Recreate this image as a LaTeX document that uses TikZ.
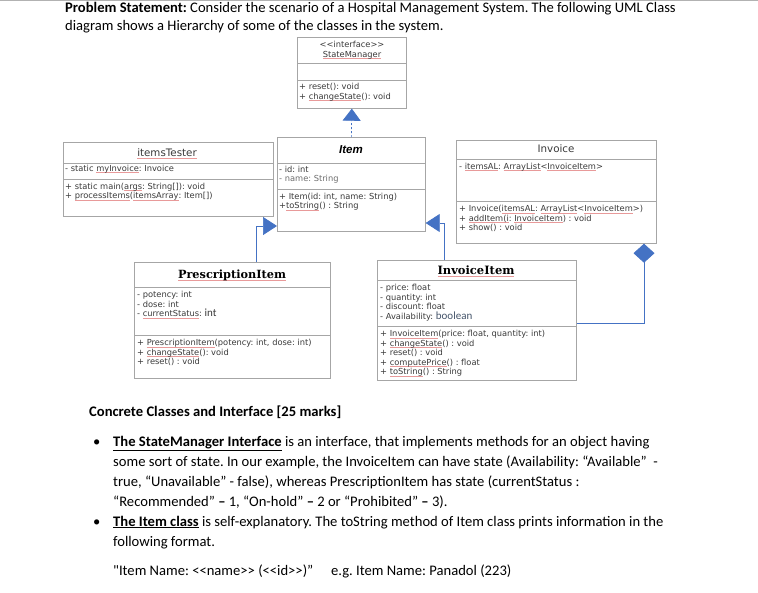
\documentclass[tikz,border=0pt]{standalone}
\usepackage{fontspec}
\setmainfont{Carlito}[Ligatures=TeXOff]
\newfontfamily\umlsans{DejaVu Sans}[Ligatures=TeXOff]
\newfontfamily\lsans{Liberation Sans}
\newfontfamily\dserif{DejaVu Serif}
\usetikzlibrary{arrows.meta}
\definecolor{umlblue}{HTML}{4472C4}
\definecolor{boxgray}{HTML}{A6A6A6}
\definecolor{umltext}{HTML}{3A3A3A}
\definecolor{lighttext}{HTML}{6E6E6E}
\definecolor{bluegray}{HTML}{44546A}
\definecolor{spellred}{HTML}{E89A9A}
\newcommand\spl[1]{\setbox0\hbox{#1}\rlap{\color{spellred}\smash{\rule[-1.6pt]{\wd0}{0.5pt}}}\box0}
\newcommand\splk[1]{\setbox0\hbox{#1}\rlap{\color{spellred}\smash{\rule[-2.2pt]{\wd0}{0.6pt}}}\box0}
\frenchspacing
\tikzset{
  umlbox/.style={draw=boxgray, line width=0.7pt, anchor=north west, inner sep=0pt, fill=white},
  boxline/.style={draw=boxgray, line width=0.7pt},
  umlfont/.style={font=\umlsans\fontsize{8.3}{9.5}\selectfont, text=umltext},
  members/.style={umlfont, anchor=north west, inner sep=0pt, align=left},
  hdr/.style={inner sep=0pt, text=umltext},
  body/.style={anchor=base west, inner sep=0pt, font=\fontsize{14.6}{18}\selectfont, text=black},
  gen/.style={draw=umlblue, line width=0.7pt, -{Triangle[length=14pt, width=18pt, fill=umlblue]}},
  realize/.style={draw=umlblue, line width=0.7pt, dash pattern=on 2pt off 2pt, -{Triangle[length=12pt, width=18pt, fill=umlblue]}},
  agg/.style={draw=umlblue, line width=0.7pt, -{Diamond[length=19pt, width=21pt, fill=umlblue]}}
}
\begin{document}
\begin{tikzpicture}[x=1pt, y=-1pt]
\useasboundingbox (0,0) rectangle (758,592);
\fill[white] (0,0) rectangle (758,592);
\draw[gray!60, line width=1pt] (0,0.6) coordinate (tl) -- (758,0.6) coordinate (tr);

% title
\node[body] (t1) at (65,12) {\textbf{Problem Statement:} Consider the scenario of a Hospital Management System. The following UML Class};
\node[body] (t2) at (65,30) {diagram shows a Hierarchy of some of the classes in the system.};

% StateManager
\node[umlbox, minimum width=109pt, minimum height=71pt] (sm) at (297,37) {};
\draw[boxline] (sm.west |- 0,63) -- (sm.east |- 0,63);
\draw[boxline] (sm.west |- 0,80) -- (sm.east |- 0,80);
\node[hdr, umlfont, align=center, anchor=north] (smh) at (352,41) {\strut<<interface>>\\\spl{StateManager}};
\node[members] (smm) at (299,83) {\strut+ reset(): void\\+ \spl{changeState}(): void};

% Item
\node[umlbox, minimum width=148pt, minimum height=94pt] (item) at (277,137) {};
\draw[boxline] (item.west |- 0,163) -- (item.east |- 0,163);
\draw[boxline] (item.west |- 0,189) -- (item.east |- 0,189);
\node[hdr, font=\lsans\bfseries\itshape\fontsize{11.5}{13}\selectfont, text=black] (itemh) at (351,150) {Item};
\node[members] (itema) at (279,165.5) {\strut- id: int\\\textcolor{lighttext}{- name: String}};
\node[members] (itemm) at (279,192.5) {\strut+ Item(id: int, name: String)\\+\spl{toString}() : String};

% itemsTester
\node[umlbox, minimum width=210pt, minimum height=74pt] (it) at (63,142) {};
\draw[boxline] (it.west |- 0,163) -- (it.east |- 0,163);
\draw[boxline] (it.west |- 0,179) -- (it.east |- 0,179);
\node[hdr, font=\umlsans\fontsize{10.3}{12}\selectfont] (ith) at (167,153) {\spl{itemsTester}};
\node[members] (ita) at (65,164.5) {\strut- static \spl{myInvoice}: Invoice};
\node[members] (itm) at (65,182.5) {\strut+ static main(\spl{args}: String[]): void\\+ \spl{processItems}(\spl{itemsArray}: Item[])};

% Invoice
\node[umlbox, minimum width=200pt, minimum height=103pt] (inv) at (456,140) {};
\draw[boxline] (inv.west |- 0,159) -- (inv.east |- 0,159);
\draw[boxline] (inv.west |- 0,201) -- (inv.east |- 0,201);
\node[hdr, font=\umlsans\fontsize{10.3}{12}\selectfont] (invh) at (556,149) {Invoice};
\node[members] (inva) at (459,162.5) {\strut- \spl{itemsAL}: \spl{ArrayList}<\spl{InvoiceItem}>};
\node[members] (invm) at (459,205) {\strut+ Invoice(\spl{itemsAL}: \spl{ArrayList}<\spl{InvoiceItem}>)\\+ \spl{addItem(i}: \spl{InvoiceItem}) : void\\+ show() : void};

% PrescriptionItem
\node[umlbox, minimum width=196pt, minimum height=116pt] (pi) at (134,262) {};
\draw[boxline] (pi.west |- 0,287) -- (pi.east |- 0,287);
\draw[boxline] (pi.west |- 0,335) -- (pi.east |- 0,335);
\node[hdr, font=\dserif\bfseries\fontsize{11.3}{13}\selectfont, text=black] (pih) at (232,275) {\splk{PrescriptionItem}};
\node[members] (pia) at (137,291) {\strut- potency: int\\- dose: int\\- \spl{currentStatus}: {\rmfamily\fontsize{11}{9.5}\selectfont int}};
\node[members] (pim) at (137,339) {\strut+ \spl{PrescriptionItem}(potency: int, dose: int)\\+ \spl{changeState}(): void\\+ reset() : void};

% InvoiceItem
\node[umlbox, minimum width=199pt, minimum height=120pt] (ii) at (377,260) {};
\draw[boxline] (ii.west |- 0,280) -- (ii.east |- 0,280);
\draw[boxline] (ii.west |- 0,326) -- (ii.east |- 0,326);
\node[hdr, font=\dserif\bfseries\fontsize{11.5}{13}\selectfont, text=black] (iih) at (476,270) {\splk{InvoiceItem}};
\node[members] (iia) at (380,284) {\strut- price: float\\- quantity: int\\- discount: float\\- Availability: {\rmfamily\fontsize{11}{9.5}\selectfont\color{bluegray}boolean}};
\node[members] (iim) at (380,330) {\strut+ \spl{InvoiceItem}(price: float, quantity: int)\\+ \spl{changeState}() : void\\+ reset() : void\\+ \spl{computePrice}() : float\\+ \spl{toString}() : String};

% connectors
\draw[realize] (item.north) -- (sm.south);
\draw[gen] (256,0 |- pi.north) |- (item.west |- 0,226);
\draw[gen] (444,0 |- ii.north) |- (item.east |- 0,223);
\draw[agg] (ii.east |- 0,323) -| (644,0 |- inv.south);

% text below
\node[body] (c0) at (89,416) {\textbf{Concrete Classes and Interface [25 marks]}};
\node[body] (bu1) at (93,446) {•};
\node[body] (l1) at (113,446) {\underline{\textbf{The StateManager Interface}} is an interface, that implements methods for an object having};
\node[body] (l2) at (113,466) {some sort of state. In our example, the InvoiceItem can have state (Availability: “Available”\ \ -};
\node[body] (l3) at (113,486) {true, “Unavailable” - false), whereas PrescriptionItem has state (currentStatus :};
\node[body] (l4) at (113,506) {“Recommended” \textbf{–} 1, “On-hold” \textbf{–} 2 or “Prohibited” \textbf{–} 3).};
\node[body] (bu2) at (93,526) {•};
\node[body] (l5) at (113,526) {\underline{\textbf{The Item class}} is self-explanatory. The toString method of Item class prints information in the};
\node[body] (l6) at (113,546) {following format.};
\node[body] (l7) at (113,575) {"Item Name: <<name>> (<<id>>)”\quad\ e.g. Item Name: Panadol (223)};
\end{tikzpicture}
\end{document}
